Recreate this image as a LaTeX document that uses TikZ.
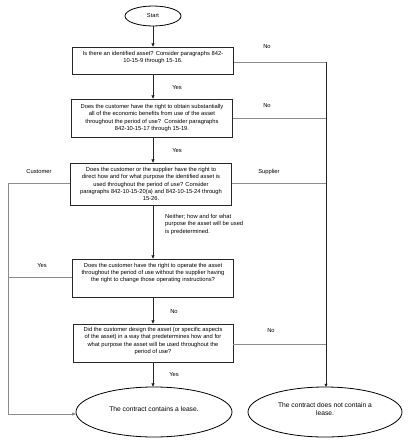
\documentclass[tikz,border=0pt]{standalone}
\usepackage{fontspec}
\setmainfont{Liberation Sans}
\usetikzlibrary{arrows.meta,shapes.geometric,calc}
\begin{document}
\begin{tikzpicture}[x=1pt,y=1pt,
  box/.style={draw=black!85,line width=0.8pt,minimum width=161pt,inner sep=0pt},
  txt/.style={font=\fontsize{5.8}{7.2}\selectfont,align=center,inner sep=0pt},
  lbl/.style={font=\fontsize{5.8}{7.3}\selectfont,inner sep=0pt},
  endtxt/.style={font=\fontsize{6.7}{8}\selectfont,align=center,inner sep=0pt},
  oval/.style={draw=black,line width=0.8pt,ellipse,inner sep=0pt},
  conn/.style={draw=black!45,line width=0.6pt},
  darkconn/.style={draw=black!85,line width=0.6pt},
  tip/.style={-{Triangle[length=3.2pt,width=3pt,fill=black]}},
  arr/.style={darkconn,tip}]
\useasboundingbox (0,0) rectangle (410,-442);
% shapes
\node[oval,minimum width=56pt,minimum height=20pt,font=\fontsize{5.7}{7}\selectfont] (start) at (153,-16) {Start};
\node[box,minimum height=27pt] (b1) at (153,-60.5) {};
\node[txt] at (153,-57.5) {Is there an identified asset? Consider paragraphs 842-\\10-15-9 through 15-16.};
\node[box,minimum height=38pt] (b2) at (152,-118) {};
\node[txt] at (152,-118) {Does the customer have the right to obtain substantially\\all of the economic benefits from use of the asset\\throughout the period of use?\ \ Consider paragraphs\\842-10-15-17 through 15-19.};
\node[box,minimum height=42pt] (b3) at (151,-184) {};
\node[txt] at (151,-184) {Does the customer or the supplier have the right to\\direct how and for what purpose the identified asset is\\used throughout the period of use? Consider\\paragraphs 842-10-15-20(a) and 842-10-15-24 through\\15-26.};
\node[box,minimum height=38pt] (b4) at (153,-278) {};
\node[txt] at (153,-273) {Does the customer have the right to operate the asset\\throughout the period of use without the supplier having\\the right to change those operating instructions?};
\node[box,minimum height=38pt,minimum width=160pt] (b5) at (153,-343) {};
\node[txt] at (153,-341) {Did the customer design the asset (or specific aspects\\of the asset) in a way that predetermines how and for\\what purpose the asset will be used throughout the\\period of use?};
\node[oval,minimum width=156pt,minimum height=50pt] (yes) at (154,-412) {};
\node[endtxt] at (154,-409.5) {The contract contains a lease.};
\node[oval,minimum width=154pt,minimum height=50pt] (no) at (325,-412) {};
\node[endtxt] at (325,-409.5) {The contract does not contain a\\lease.};
% labels
\node[lbl] (l1) at (267,-47) {No};
\node[lbl] (l2) at (177,-88) {Yes};
\node[lbl] (l3) at (267,-106) {No};
\node[lbl] (l4) at (177,-151) {Yes};
\node[lbl] (l5) at (39,-172) {Customer};
\node[lbl] (l6) at (269,-172) {Supplier};
\node[lbl,align=left,anchor=north west] (l7) at (165,-214) {Neither; how and for what\\purpose the asset will be used\\is predetermined.};
\node[lbl] (l8) at (42,-266) {Yes};
\node[lbl] (l9) at (174,-312) {No};
\node[lbl] (l10) at (271,-331) {No};
\node[lbl] (l11) at (174,-375) {Yes};
% coordinates
\coordinate (r1) at (326,-62);
\coordinate (r2) at (326,-118);
\coordinate (r3) at (326,-183);
\coordinate (r5) at (326,-344);
\coordinate (rb) at (326,-387);
\coordinate (c3) at (8,-183);
\coordinate (c4) at (8,-277);
\coordinate (cb) at (8,-414);
% connectors
\draw[arr] (start.south) -- (start.south |- b1.north);
\draw[arr] (b1.south) -- (b1.south |- b2.north);
\draw[arr] (b1.south |- b2.south) -- (b1.south |- b3.north);
\draw[arr] (b1.south |- b3.south) -- (b4.north);
\draw[arr] (b4.south) -- (b5.north);
\draw[arr] (b5.south) -- (b5.south |- yes.north);
\draw[conn] (b1.east |- r1) -- (r1);
\draw[arr] (r1) -- (rb);
\draw[conn] (b2.east |- r2) -- (r2);
\draw[conn] (b3.east |- r3) -- (r3);
\draw[conn] (b5.east |- r5) -- (r5);
\draw[conn] (b3.west |- c3) -- (c3) -- (cb);
\draw[conn] (b4.west |- c4) -- (c4);
\draw[conn,tip] (cb) -- (yes.west |- cb);
\end{tikzpicture}
\end{document}
